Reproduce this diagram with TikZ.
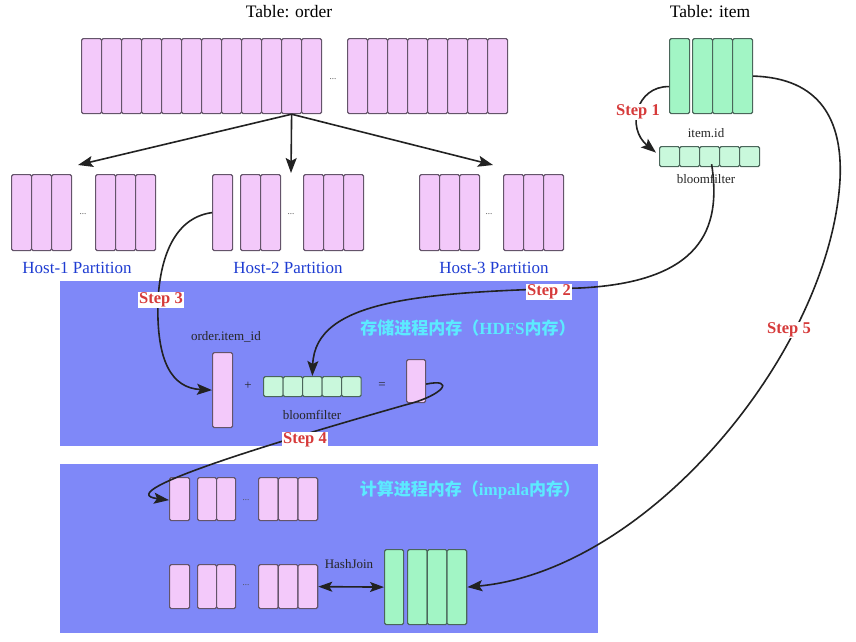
\documentclass[tikz,border=0pt]{standalone}
\usepackage{fontspec}
\setmainfont{Liberation Serif}
\newfontfamily\cjk{Noto Sans CJK SC}
\usetikzlibrary{arrows.meta}
\definecolor{pinkfill}{HTML}{F3C9FA}
\definecolor{pinkline}{HTML}{64546A}
\definecolor{greenfill}{HTML}{A2F5C5}
\definecolor{bloomfill}{HTML}{C9F8DC}
\definecolor{greenline}{HTML}{4A665A}
\definecolor{memblue}{HTML}{7F88F8}
\definecolor{memtext}{HTML}{5CEAFF}
\definecolor{hostblue}{HTML}{1E3CD2}
\definecolor{stepred}{HTML}{D63A3A}
\definecolor{linedark}{HTML}{222222}
\newcommand{\colgroup}[7]{%
  \foreach \i in {1,...,#4} {%
    \node[#7, minimum width=#5pt, minimum height=#6pt] (#1-\i) at ({#2+(\i-1)*#5}, #3) {};
  }%
}
\tikzset{
  cellbase/.style={draw, rectangle, rounded corners=1.5pt, line width=1.2pt, inner sep=0pt, anchor=north west},
  pinkcell/.style={cellbase, fill=pinkfill, draw=pinkline},
  greencell/.style={cellbase, fill=greenfill, draw=greenline},
  bloomcell/.style={cellbase, fill=bloomfill, draw=greenline},
  memregion/.style={fill=memblue, inner sep=0pt, anchor=north west},
  titletext/.style={font=\fontsize{17.5}{19}\selectfont, text=black},
  hosttext/.style={font=\fontsize{17}{19}\selectfont, text=hostblue},
  smalltext/.style={font=\fontsize{13}{15}\selectfont, text=black!85},
  dotstext/.style={font=\fontsize{9}{10}\selectfont, text=black!70},
  memlabel/.style={font=\fontsize{17}{19}\selectfont\bfseries, text=memtext},
  steplabel/.style={font=\fontsize{16.5}{18}\selectfont\bfseries, text=stepred, fill=white, inner sep=1pt},
  conn/.style={draw=linedark, line width=1.6pt},
  arr/.style={conn, -{Stealth[length=15pt,width=11pt,inset=3pt]}},
  darr/.style={conn, {Stealth[length=14pt,width=10pt,inset=3pt]}-{Stealth[length=14pt,width=10pt,inset=3pt]}}
}
\begin{document}
\begin{tikzpicture}[x=1pt, y=-1pt]
\useasboundingbox (0,0) rectangle (856,641);
\fill[white] (0,0) rectangle (856,641);

% memory regions
\node[memregion, minimum width=538pt, minimum height=165pt] (mem1) at (60,281) {};
\node[memregion, minimum width=538pt, minimum height=169pt] (mem2) at (60,464) {};

% titles
\node[titletext] (tord) at (289,12) {Table: order};
\node[titletext] (titem) at (710,12) {Table: item};

% order table
\colgroup{oa}{81}{38}{12}{20}{75}{pinkcell}
\node[dotstext] (odots) at (333,79) {...};
\colgroup{ob}{347}{38}{8}{20}{75}{pinkcell}

% host partitions
\colgroup{ha}{11}{174}{3}{20}{76}{pinkcell}
\node[dotstext] (h1dots) at (83,214) {...};
\colgroup{hb}{95}{174}{3}{20}{76}{pinkcell}
\colgroup{hs}{212}{174}{1}{20}{76}{pinkcell}
\colgroup{hc}{240}{174}{2}{20}{76}{pinkcell}
\node[dotstext] (h2dots) at (291,214) {...};
\colgroup{hd}{303}{174}{3}{20}{76}{pinkcell}
\colgroup{he}{419}{174}{3}{20}{76}{pinkcell}
\node[dotstext] (h3dots) at (489,214) {...};
\colgroup{hf}{503}{174}{3}{20}{76}{pinkcell}
\node[hosttext] (host1) at (77,268) {Host-1 Partition};
\node[hosttext] (host2) at (288,268) {Host-2 Partition};
\node[hosttext] (host3) at (494,268) {Host-3 Partition};

% item table
\colgroup{ita}{669}{38}{1}{20}{75}{greencell}
\colgroup{itb}{692}{38}{3}{20}{75}{greencell}
\node[smalltext] (itemid) at (706,133) {item.id};
\colgroup{bf}{659}{146}{5}{20}{20}{bloomcell}
\node[smalltext] (bflabel) at (706,179) {bloomfilter};

% storage memory content
\node[memlabel] (memlab1) at (468,328) {{\cjk 存储进程内存（}HDFS{\cjk 内存）}};
\node[smalltext] (oidlabel) at (226,337) {order.item\_id};
\colgroup{oid}{212}{352}{1}{20}{75}{pinkcell}
\node[smalltext] (plus) at (248,386) {+};
\colgroup{bfb}{263}{376}{5}{19.5}{20}{bloomcell}
\node[smalltext] (bfblabel) at (312,415) {bloomfilter};
\node[smalltext] (eq) at (382,386) {=};
\colgroup{res}{406}{359}{1}{19}{43}{pinkcell}

% compute memory content
\node[memlabel] (memlab2) at (470,490) {{\cjk 计算进程内存（}impala{\cjk 内存）}};
\colgroup{ra}{169}{477}{1}{20}{43}{pinkcell}
\colgroup{rb}{197}{477}{2}{19}{43}{pinkcell}
\node[dotstext] (r1dots) at (246,500) {...};
\colgroup{rc}{258}{477}{3}{19.7}{43}{pinkcell}
\colgroup{sa}{169}{564}{1}{20}{44}{pinkcell}
\colgroup{sb}{197}{564}{2}{19}{44}{pinkcell}
\node[dotstext] (r2dots) at (246,585) {...};
\colgroup{sc}{258}{564}{3}{19.7}{44}{pinkcell}
\node[smalltext] (hashjoin) at (349,564) {HashJoin};
\colgroup{ga}{384}{549}{1}{19}{75}{greencell}
\colgroup{gb}{407}{549}{3}{19.7}{75}{greencell}

% arrow targets
\coordinate (t1) at (78,165);
\coordinate (t2) at (291,173);
\coordinate (t3) at (493,165);

% connectors
\draw[arr] (oa-11.south) -- (t1);
\draw[arr] (oa-11.south) -- (t2);
\draw[arr] (oa-11.south) -- (t3);

% step 1
\draw[arr] ([yshift=-10.5pt]ita-1.west) .. controls (636,86) and (626,128) .. ([xshift=-3pt,yshift=4pt]bf-1.west);
% step 2
\draw[arr] ([xshift=2pt,yshift=3pt]bf-3.south) .. controls (722,230) and (700,282) .. (580,288)
  .. controls (420,292) and (315,300) .. (bfb-3.north);
% step 3
\draw[arr] (hs-1.west) .. controls (172,218) and (160,262) .. (158,300)
  .. controls (156,362) and (172,388) .. (oid-1.west);
% step 4
\draw[arr] ([yshift=-3pt]res-1.east) .. controls (455,378) and (445,395) .. (405,405)
  .. controls (300,435) and (105,492) .. ([yshift=-1pt]ra-1.west);
% step 5
\draw[arr] (itb-3.east) .. controls (820,78) and (843,120) .. (840,180)
  .. controls (830,350) and (650,570) .. (gb-3.east);
% hash join
\draw[darr] (sc-3.east) -- (ga-1.west);

% step labels
\node[steplabel] (s1) at (638,112) {Step 1};
\node[steplabel] (s2) at (549,292) {Step 2};
\node[steplabel] (s3) at (161,300) {Step 3};
\node[steplabel] (s4) at (305,440) {Step 4};
\node[steplabel] (s5) at (789,330) {Step 5};
\end{tikzpicture}
\end{document}
